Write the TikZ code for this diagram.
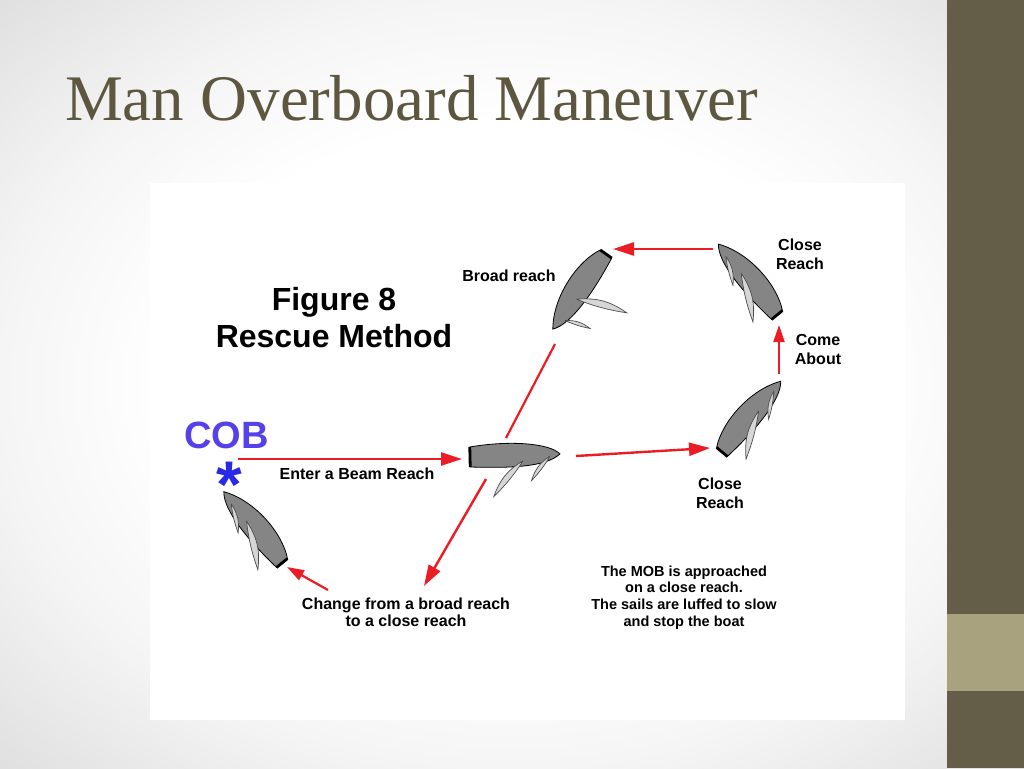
\documentclass[tikz,border=0pt]{standalone}
\usepackage{fontspec}
\setmainfont{Liberation Serif}
\newfontfamily\arialf{Liberation Sans}
\usetikzlibrary{arrows.meta}
\definecolor{barDark}{HTML}{645D47}
\definecolor{barLight}{HTML}{A8A27E}
\definecolor{titleCol}{HTML}{5E573F}
\definecolor{arrRed}{HTML}{EC1C24}
\definecolor{cobBlue}{RGB}{85,65,235}
\definecolor{starBlue}{RGB}{40,40,230}
\definecolor{hullGray}{HTML}{858585}
\definecolor{sailGray}{HTML}{D6D6D6}
\pgfdeclareradialshading{slidebg}{\pgfpoint{0bp}{0bp}}{color(0bp)=(white); color(17bp)=(white); color(25bp)=(black!4); color(35bp)=(black!12); color(50bp)=(black!12)}
\tikzset{
  lbl/.style={font=\arialf\bfseries\fontsize{16}{19}\selectfont, align=center, inner sep=0pt},
  redarr/.style={draw=arrRed, line width=2.4pt, -{Triangle[length=21pt,width=13pt]}},
  redsmall/.style={draw=arrRed, line width=2.2pt, -{Triangle[length=17pt,width=11pt]}},
  redline/.style={draw=arrRed, line width=2.2pt},
  hullst/.style={fill=hullGray, draw=black, line width=0.8pt},
  sternst/.style={draw=black, line width=2.8pt},
  sailst/.style={fill=sailGray, draw=black!70, line width=0.7pt},
}
\newcommand\hullA{%
  \draw[hullst] (0,-10) .. controls (40,-16) and (80,-12) .. (90,-1) .. controls (75,12) and (40,12) .. (0,10) -- cycle;
  \draw[sternst] (0,-10) -- (0,10);}
\newcommand\hullB{%
  \draw[hullst] (0,-7) .. controls (22,-19) and (65,-19) .. (92,0) .. controls (78,12) and (40,12) .. (0,7) -- cycle;
  \draw[sternst] (0,-7) -- (0,7);}
\newcommand\sailpair[4]{%
  \draw[sailst] #1 to[bend left=6] #2 to[bend left=20] #1;
  \draw[sailst] #3 to[bend left=6] #4 to[bend left=20] #3;}
\begin{document}
\begin{tikzpicture}[x=1pt,y=-1pt]
\useasboundingbox (0,0) rectangle (1024,768);
\shade[shading=slidebg] (0,0) rectangle (1024,768);
\fill[white] (150,183) rectangle (905,720);
\fill[barDark] (947,0) rectangle (1024,768);
\fill[barLight] (947,614) rectangle (1024,691);

\node[anchor=base west, text=titleCol, font=\fontsize{65}{70}\selectfont, inner sep=0pt] (title) at (65,120) {Man Overboard Maneuver};

% boats
\begin{scope}[shift={(470,457)}, rotate=1.3]
  \hullA
  \sailpair{(53,5)}{(23,40)}{(80,1)}{(61,25)}
\end{scope}
\begin{scope}[shift={(606,254)}, rotate=-125.3, yscale=-1]
  \hullB
  \sailpair{(54,2)}{(36,51)}{(78,5)}{(70,30)}
\end{scope}
\begin{scope}[shift={(777,315)}, rotate=129.6, yscale=-1]
  \hullB
  \sailpair{(55,1)}{(10,23)}{(78,2)}{(51,15)}
\end{scope}
\begin{scope}[shift={(722,452)}, rotate=50.3]
  \hullB
  \sailpair{(55,2)}{(10,23)}{(80,1)}{(55,15)}
\end{scope}
\begin{scope}[shift={(282,563)}, rotate=129.2, yscale=-1]
  \hullB
  \sailpair{(55,1)}{(10,23)}{(78,2)}{(51,15)}
\end{scope}

% texts
\node[anchor=base, font=\arialf\bfseries\fontsize{32}{37}\selectfont, inner sep=0pt] (fig) at (334,310) {Figure 8};
\node[anchor=base, font=\arialf\bfseries\fontsize{32}{37}\selectfont, inner sep=0pt] (rescue) at (334,347) {Rescue Method};
\node[lbl] (broad) at (509,276) {Broad reach};
\node[lbl] (cr1) at (800,254) {Close\\Reach};
\node[lbl] (come) at (818,349) {Come\\About};
\node[lbl] (cr2) at (720,493) {Close\\Reach};
\node[lbl] (enter) at (357,474) {Enter a Beam Reach};
\node[lbl, font=\arialf\bfseries\fontsize{16}{17.5}\selectfont] (change) at (406,612.5) {Change from a broad reach\\to a close reach};
\node[lbl, font=\arialf\bfseries\fontsize{14.5}{16.7}\selectfont] (mob) at (684,597.5) {The MOB is approached\\on a close reach.\\The sails are luffed to slow\\and stop the boat};
\node[font=\arialf\bfseries\fontsize{38}{40}\selectfont, text=cobBlue, inner sep=0pt] (cob) at (226.5,435) {COB};
\node[anchor=base, font=\arialf\bfseries\fontsize{66}{70}\selectfont, text=starBlue, inner sep=0pt] (star) at (229,507) {*};

% connectors
\coordinate (a1) at (238,459); \coordinate (a2) at (462,459);
\coordinate (b1) at (576,456); \coordinate (b2) at (710,448);
\coordinate (c1) at (779,374); \coordinate (c2) at (779,325);
\coordinate (d1) at (713,249); \coordinate (d2) at (613,249);
\coordinate (e1) at (555,344); \coordinate (e2) at (506,438);
\coordinate (f1) at (486,479); \coordinate (f2) at (424,586);
\coordinate (g1) at (328,590); \coordinate (g2) at (287,567);
\draw[redarr] (a1) -- (a2);
\draw[redarr] (b1) -- (b2);
\draw[redsmall] (c1) -- (c2);
\draw[redarr] (d1) -- (d2);
\draw[redline] (e1) -- (e2);
\draw[redarr] (f1) -- (f2);
\draw[redsmall] (g1) -- (g2);
\end{tikzpicture}
\end{document}
